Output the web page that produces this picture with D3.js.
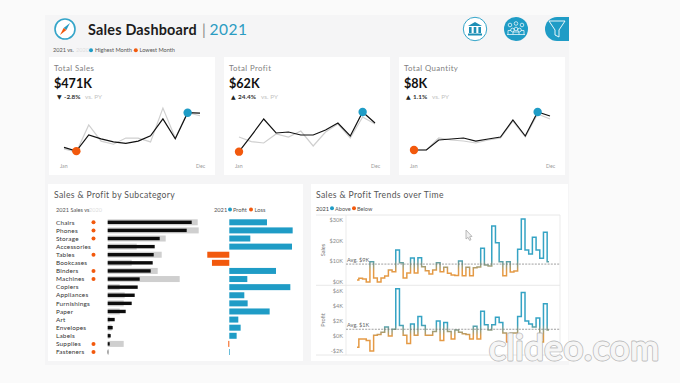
<!DOCTYPE html>
<html>
<head>
<meta charset="utf-8">
<script src="https://cdnjs.cloudflare.com/ajax/libs/d3/7.8.5/d3.min.js"></script>
<style>
html, body { margin: 0; padding: 0; background: #fafafa; overflow: hidden; }
text { font-family: Lato, sans-serif; }
</style>
</head>
<body>
<div id="canvas"></div>
<script>
"use strict"

/* Colours */
let blue = "#1f9cc6";
let orange = "#f2590d";
let lineOrange = "#e59a45";
let lineBlue = "#35a3c4";
let grey = "#cfcfcf";

/* KPI cards */
let months = ["Jan", "Feb", "Mar", "Apr", "May", "Jun", "Jul", "Aug", "Sep", "Oct", "Nov", "Dec"];
let kpiTitles = ["Total Sales", "Total Profit", "Total Quantity"];
let kpiValues = ["$471K", "$62K", "$8K"];
let kpiArrows = ["\u25BC", "\u25B2", "\u25B2"];
let kpiChanges = ["-2.8%", "24.4%", "1.1%"];

let sales2021 = [23, 18, 39, 34, 30, 28, 31, 38, 60, 34, 68, 67.5];
let sales2020 = [21, 17, 52, 31, 27, 35, 35, 30, 74, 35, 68, 64];
let profit2021 = [2.0, 4.4, 6.9, 4.8, 4.95, 4.5, 4.5, 5.25, 6.3, 4.35, 7.95, 6.3];
let profit2020 = [4.2, 3.5, 3.3, 4.65, 4.2, 5.1, 2.85, 4.95, 6.15, 4.05, 7.2, 6.15];
let quantity2021 = [332, 332, 553, 575, 597, 530, 575, 619, 995, 641, 1172, 1083];
let quantity2020 = [332, 332, 597, 553, 530, 486, 553, 597, 972, 619, 1127, 1017];

/* Subcategory bars */
let subcategories = ["Chairs", "Phones", "Storage", "Accessories", "Tables", "Bookcases", "Binders", "Machines", "Copiers", "Appliances", "Furnishings", "Paper", "Art", "Envelopes", "Labels", "Supplies", "Fasteners"];
let subSales2021 = [84, 79, 52, 47, 46, 45, 43, 32, 30, 27, 24, 18, 7, 5, 3, 2, 0.5];
let subSales2020 = [90, 91, 58, 29, 54, 24, 50, 72, 12, 17, 16, 12, 2, 4, 2, 16, 1];
let subProfit = [11.3, 19, 6.3, 18.8, -6.6, -5.2, 14, 5.4, 18.3, 4.5, 5.5, 12.1, 2.7, 3.4, 2.2, -0.3, 0.2];
let subBelowPY = ["Chairs", "Phones", "Storage", "Tables", "Binders", "Machines", "Supplies", "Fasteners"];

/* Weekly trends */
let weeklySales = [1.0, 1.8, 1.4, 0, 9.7, 1.9, 0, 1.9, 2.9, 5.8, 4.9, 15.4, 9.3, 1.9, 4.3, 11.5, 4.3, 11.7, 7.3, 5.4, 3.8, 5.8, 9.3, 4.9, 7.1, 4.2,
    3.4, 3.1, 10.1, 3.0, 7.1, 3.0, 6.9, 7.2, 16.2, 8.2, 7.7, 26.9, 18.9, 9.7, 3.0, 9.7, 4.8, 5.3, 15.7, 30.2, 15.4, 13.4, 21.5, 15.4, 11.4, 23.9, 9.7];
let weeklyProfit = [-1.5, -0.4, -0.4, -0.6, -2.0, 0.1, 0.2, 0.5, 1.2, 0.0, 0.9, 6.3, 1.4, 0.1, -1.0, 1.6, 0.1, 2.6, 1.4, 0.1, 0.1, 0.6, 2.0, -0.6, 1.8,
    0.6, -0.4, 0.8, 0.5, 0.3, 0.2, -0.4, 1.3, -0.4, 3.3, 1.5, 0.8, 1.5, 2.5, 1.8, 0.4, -0.8, 0.4, 0.4, 2.6, 5.8, 2.0, 1.6, 1.2, 2.4, -0.8, 4.3, 0.8];
let avgSales = 8.6;
let avgProfit = 0.9;
let salesTicks = [0, 10, 20, 30];
let profitTicks = [-2, 0, 2, 4, 6];

let svgWidth = 680;
let svgHeight = 383;

let svg = d3.select("#canvas")
    .append("svg")
    .attr("width", svgWidth)
    .attr("height", svgHeight)
    .style("display", "block");

let defs = svg.append("defs");

function label(x, y, txt, size, color, weight) {
    return svg.append("text")
        .attr("x", x)
        .attr("y", y)
        .attr("font-size", size)
        .attr("fill", color)
        .attr("font-weight", weight || 400)
        .text(txt);
}

function dot(x, y, r, color) {
    return svg.append("circle")
        .attr("cx", x)
        .attr("cy", y)
        .attr("r", r)
        .attr("fill", color);
}

function card(x, y, w, h) {
    svg.append("rect")
        .attr("x", x)
        .attr("y", y)
        .attr("width", w)
        .attr("height", h)
        .attr("fill", "#ffffff");
}

/* Background panel */
svg.append("rect")
    .attr("x", 45)
    .attr("y", 15)
    .attr("width", 524)
    .attr("height", 350)
    .attr("fill", "#f5f5f6");

/* Header */
label(88, 35, "Sales Dashboard", 14.4, "#1c1c1c", 700).attr("letter-spacing", 0.2);
label(202, 35, "|", 15, "#8a8a8a");
label(209.5, 35, "2021", 15.5, "#2a9cc2").attr("letter-spacing", 0.5);

dot(65, 29, 10, "#ffffff").attr("stroke", "#35a5c9").attr("stroke-width", 1.6);
svg.append("path").attr("d", "M70 23 L66.4 30 L63.6 28 Z").attr("fill", "#2a9cc2");
svg.append("path").attr("d", "M60 35 L63.6 28 L66.4 30 Z").attr("fill", orange);

/* bank icon */
dot(475, 29, 11.7, "#ffffff").attr("stroke", "#35a5c9").attr("stroke-width", 1);
svg.append("path").attr("d", "M468 26 L475 22 L482 26 Z M469 27h2.6v6h-2.6z M473.7 27h2.6v6h-2.6z M478.4 27h2.6v6h-2.6z M468 33.5h14v2h-14z").attr("fill", "#1d8fb5");

/* group icon */
dot(516, 29, 12, blue);
svg.selectAll(".head")
    .data([[516, 23.5], [510, 25], [522, 25], [512.5, 30], [519.5, 30], [516, 29]])
    .join("circle")
    .attr("cx", d => d[0])
    .attr("cy", d => d[1])
    .attr("r", 1.8)
    .attr("fill", "none")
    .attr("stroke", "#ffffff")
    .attr("stroke-width", 0.7);
svg.append("path")
    .attr("d", "M507 34.5 h18 M508 34.5 v-4 h3 M521 30.5 h3 v4 M513 34.5 v-2.5 h6 v2.5")
    .attr("fill", "none")
    .attr("stroke", "#ffffff")
    .attr("stroke-width", 0.7);

/* filter icon, cut off on the right like the source */
svg.append("path").attr("d", "M569 17 H557 A12 12 0 0 0 557 41 H569 Z").attr("fill", blue);
svg.append("path")
    .attr("d", "M549 21 H565 L559 30 V37 L555 35 V30 Z")
    .attr("fill", "none")
    .attr("stroke", "#ffffff")
    .attr("stroke-width", 0.9);

/* Top legend */
label(53, 52, "2021 vs.", 5.6, "#555555");
label(76, 52, "2020", 5.6, "#dddddd");
dot(91, 50.3, 2, blue);
label(95, 52, "Highest Month", 5.6, "#555555");
dot(135.8, 50.3, 2, orange);
label(139.5, 52, "Lowest Month", 5.6, "#555555");

/* KPI cards: one loop, each card gets its own y scale */
let cardX = [49, 224, 399];
let seriesNow = [sales2021, profit2021, quantity2021];
let seriesPrev = [sales2020, profit2020, quantity2020];
let yDomainTop = [78, 9, 1326];
let changeX = [64, 238, 413];
let vsX = [85, 261, 432];

for (let i = 0; i < 3; i++) {
    let x0 = cardX[i];
    card(x0, 57, 166, 118);
    label(x0 + 5, 71, kpiTitles[i], 7.8, "#808080").attr("letter-spacing", 0.4);
    label(x0 + 5, 88, kpiValues[i], 12.6, "#111111", 700);
    label(changeX[i] - 7, 99, kpiArrows[i], 6, "#222222").style("font-family", "DejaVu Sans");
    label(changeX[i], 99, kpiChanges[i], 6.4, "#333333", 700);
    label(vsX[i], 99, "vs. PY", 6.4, "#c4c4c4");
    label(x0 + 11, 168, months[0], 5.2, "#999999");
    label(x0 + 147, 168, months[11], 5.2, "#999999");

    let xScale = d3.scaleLinear()
        .domain([0, months.length - 1])
        .range([x0 + 15, x0 + 151]);
    let yScale = d3.scaleLinear()
        .domain([0, yDomainTop[i]])
        .range([165, 105]);
    let line = d3.line()
        .x((d, j) => xScale(j))
        .y(d => yScale(d));

    svg.append("path")
        .attr("d", line(seriesPrev[i]))
        .attr("fill", "none")
        .attr("stroke", grey)
        .attr("stroke-width", 1.2);
    svg.append("path")
        .attr("d", line(seriesNow[i]))
        .attr("fill", "none")
        .attr("stroke", "#111111")
        .attr("stroke-width", 1.2);

    let low = d3.minIndex(seriesNow[i]);
    let high = d3.maxIndex(seriesNow[i]);
    dot(xScale(low), yScale(seriesNow[i][low]), 4.2, orange);
    dot(xScale(high), yScale(seriesNow[i][high]), 4.2, blue);
}

/* Subcategory card */
card(48, 184, 255, 177);
label(54, 198, "Sales & Profit by Subcategory", 8.6, "#555555").attr("letter-spacing", 0.35);
label(56, 212, "2021 Sales vs", 5.6, "#555555");
label(89, 212, "2020", 5.6, "#dddddd");
label(214, 212, "2021", 5.7, "#555555");
dot(230, 209.6, 2, blue);
label(233, 212, "Profit", 5.7, "#555555");
dot(251, 209.6, 2, orange);
label(254.5, 212, "Loss", 5.7, "#555555");

let yBand = d3.scalePoint()
    .domain(subcategories)
    .range([222.3, 352]);
let xSales = d3.scaleLinear()
    .domain([0, 100])
    .range([107.7, 207.7]);
let xProfit = d3.scaleLinear()
    .domain([0, 20])
    .range([229.3, 296]);

subcategories.forEach(function (name, i) {
    let y = yBand(name);
    label(56, y + 2.2, name, 6.4, "#333333").attr("letter-spacing", 0.2);
    if (subBelowPY.includes(name)) {
        dot(93.5, y, 2, orange);
    }
    svg.append("rect")
        .attr("x", xSales(0))
        .attr("y", y - 3)
        .attr("width", xSales(subSales2020[i]) - xSales(0))
        .attr("height", 6)
        .attr("fill", grey);
    svg.append("rect")
        .attr("x", xSales(0))
        .attr("y", y - 1.7)
        .attr("width", xSales(subSales2021[i]) - xSales(0))
        .attr("height", 3.4)
        .attr("fill", "#0c0c0c");
    svg.append("rect")
        .attr("x", Math.min(xProfit(0), xProfit(subProfit[i])))
        .attr("y", y - 3)
        .attr("width", Math.abs(xProfit(subProfit[i]) - xProfit(0)))
        .attr("height", 6)
        .attr("fill", subProfit[i] < 0 ? orange : blue);
});

/* Trends card */
card(311, 184, 257, 177);
label(316, 198, "Sales & Profit Trends over Time", 8.6, "#555555").attr("letter-spacing", 0.35);
label(316, 210.5, "2021", 5.6, "#444444");
dot(332, 208.3, 2, blue);
label(335, 210.5, "Above", 5.6, "#555555");
dot(354, 208.3, 2, orange);
label(357, 210.5, "Below", 5.6, "#555555");

/* frame of the two panels */
let frameLeft = 346;
let frameRight = 560;
[215, 285.3, 355].forEach(function (y) {
    svg.append("line")
        .attr("x1", 316)
        .attr("x2", frameRight)
        .attr("y1", y)
        .attr("y2", y)
        .attr("stroke", "#e2e2e2")
        .attr("stroke-width", 0.8);
});
[frameLeft, frameRight].forEach(function (x) {
    svg.append("line")
        .attr("x1", x)
        .attr("x2", x)
        .attr("y1", 215)
        .attr("y2", 355)
        .attr("stroke", "#e6e6e6")
        .attr("stroke-width", 0.8);
});

function trendPanel(values, ticks, yRange, avg, avgText, axisName, axisY, id) {
    let xWeek = d3.scaleLinear()
        .domain([0, values.length - 1])
        .range([357, 549]);
    let yValue = d3.scaleLinear()
        .domain([ticks[0], ticks[ticks.length - 1]])
        .range(yRange);

    let yAxis = d3.axisLeft(yValue)
        .tickValues(ticks)
        .tickSize(0)
        .tickPadding(3)
        .tickFormat(d => (d < 0 ? "-$" : "$") + Math.abs(d) + "K");
    let g = svg.append("g")
        .attr("transform", "translate(" + frameLeft + ",0)")
        .call(yAxis);
    g.select(".domain").remove();
    g.selectAll("text")
        .attr("font-size", 5.6)
        .attr("fill", "#8a8a8a")
        .style("font-family", "Lato, sans-serif");

    let yAvg = yValue(avg);
    let grad = defs.append("linearGradient")
        .attr("id", id)
        .attr("gradientUnits", "userSpaceOnUse")
        .attr("x1", 0)
        .attr("x2", 0)
        .attr("y1", yAvg - 5)
        .attr("y2", yAvg + 7);
    grad.append("stop").attr("offset", 0).attr("stop-color", lineBlue);
    grad.append("stop").attr("offset", 1).attr("stop-color", lineOrange);

    let step = d3.line()
        .curve(d3.curveStep)
        .x((d, j) => xWeek(j))
        .y(d => yValue(d));

    svg.append("path")
        .attr("d", step(values))
        .attr("fill", "none")
        .attr("stroke", "url(#" + id + ")")
        .attr("stroke-width", 1.5);

    svg.append("line")
        .attr("x1", frameLeft)
        .attr("x2", frameRight)
        .attr("y1", yAvg)
        .attr("y2", yAvg)
        .attr("stroke", "#777777")
        .attr("stroke-width", 0.7)
        .attr("stroke-dasharray", "2,1.2");

    label(frameLeft + 1, yAvg - 2.5, avgText, 5.6, "#666666");

    svg.append("text")
        .attr("transform", "translate(325," + axisY + ") rotate(-90)")
        .attr("text-anchor", "middle")
        .attr("font-size", 5.6)
        .attr("fill", "#777777")
        .text(axisName);
}

trendPanel(weeklySales, salesTicks, [282, 219.5], avgSales, "Avg. $9K", "Sales", 250, "gradSales");
trendPanel(weeklyProfit, profitTicks, [351, 291], avgProfit, "Avg. $1K", "Profit", 320, "gradProfit");

/* mouse cursor caught in the screen recording */
svg.append("path")
    .attr("d", "M466 230 L466 239 L468 237.4 L469.6 240.4 L471 239.6 L469.6 236.8 L472 236.4 Z")
    .attr("fill", "#f0f0f0")
    .attr("stroke", "#aaaaaa")
    .attr("stroke-width", 0.8);

/* clideo watermark: hollow letters */
let markX = 489;
let markY = 360;
label(markX, markY, "clideo.com", 35, "#b4b4b4")
    .style("font-family", "Lato")
    .attr("letter-spacing", 0.6)
    .attr("stroke", "#b4b4b4")
    .attr("stroke-width", 2.8)
    .attr("stroke-linejoin", "round")
    .attr("opacity", 0.9);
label(markX, markY, "clideo.com", 35, "#f6f6f6")
    .style("font-family", "Lato")
    .attr("letter-spacing", 0.6)
    .attr("stroke", "#f6f6f6")
    .attr("stroke-width", 1.2)
    .attr("stroke-linejoin", "round");
</script>
</body>
</html>
